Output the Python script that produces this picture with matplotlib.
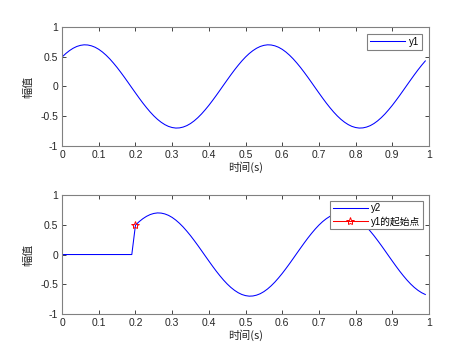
import matplotlib.pyplot as plt

plt.rcParams['font.family'] = ['Liberation Sans', 'Noto Sans CJK SC']

t = [k / 100 for k in range(100)]

y1 = [0.495, 0.553, 0.602, 0.642, 0.672, 0.691, 0.700, 0.697, 0.683, 0.659,
      0.624, 0.579, 0.525, 0.463, 0.393, 0.318, 0.237, 0.153, 0.066, -0.022,
      -0.109, -0.195, -0.278, -0.356, -0.429,
      -0.495, -0.553, -0.602, -0.642, -0.672, -0.691, -0.700, -0.697, -0.683, -0.659,
      -0.624, -0.579, -0.525, -0.463, -0.393, -0.318, -0.237, -0.153, -0.066, 0.022,
      0.109, 0.195, 0.278, 0.356, 0.429,
      0.495, 0.553, 0.602, 0.642, 0.672, 0.691, 0.700, 0.697, 0.683, 0.659,
      0.624, 0.579, 0.525, 0.463, 0.393, 0.318, 0.237, 0.153, 0.066, -0.022,
      -0.109, -0.195, -0.278, -0.356, -0.429,
      -0.495, -0.553, -0.602, -0.642, -0.672, -0.691, -0.700, -0.697, -0.683, -0.659,
      -0.624, -0.579, -0.525, -0.463, -0.393, -0.318, -0.237, -0.153, -0.066, 0.022,
      0.109, 0.195, 0.278, 0.356, 0.429]

y2 = [0, 0, 0, 0, 0, 0, 0, 0, 0, 0,
      0, 0, 0, 0, 0, 0, 0, 0, 0, 0,
      0.495, 0.553, 0.602, 0.642, 0.672, 0.691, 0.700, 0.697, 0.683, 0.659,
      0.624, 0.579, 0.525, 0.463, 0.393, 0.318, 0.237, 0.153, 0.066, -0.022,
      -0.109, -0.195, -0.278, -0.356, -0.429,
      -0.495, -0.553, -0.602, -0.642, -0.672, -0.691, -0.700, -0.697, -0.683, -0.659,
      -0.624, -0.579, -0.525, -0.463, -0.393, -0.318, -0.237, -0.153, -0.066, 0.022,
      0.109, 0.195, 0.278, 0.356, 0.429,
      0.495, 0.553, 0.602, 0.642, 0.672, 0.691, 0.700, 0.697, 0.683, 0.659,
      0.624, 0.579, 0.525, 0.463, 0.393, 0.318, 0.237, 0.153, 0.066, -0.022,
      -0.109, -0.195, -0.278, -0.356, -0.429,
      -0.495, -0.553, -0.602, -0.642, -0.672]

start_t = [0.2]
start_y = [0.5]

xticks = [0, 0.1, 0.2, 0.3, 0.4, 0.5, 0.6, 0.7, 0.8, 0.9, 1]
xticklabels = ['0', '0.1', '0.2', '0.3', '0.4', '0.5', '0.6', '0.7', '0.8', '0.9', '1']
yticks = [-1, -0.5, 0, 0.5, 1]
yticklabels = ['-1', '-0.5', '0', '0.5', '1']

axcol = '#262626'
fig = plt.figure(figsize=(4.74, 3.55), dpi=100)
ax1 = fig.add_axes([0.131, 0.589, 0.774, 0.335])
ax2 = fig.add_axes([0.131, 0.1155, 0.774, 0.335])


def style(ax):
    ax.set_xlim(0, 1)
    ax.set_ylim(-1, 1)
    ax.set_xticks(xticks)
    ax.set_xticklabels(xticklabels)
    ax.set_yticks(yticks)
    ax.set_yticklabels(yticklabels)
    ax.tick_params(direction='in', length=3, width=0.6, labelsize=7.5,
                   colors=axcol, top=True, right=True, pad=3)
    for s in ax.spines.values():
        s.set_color('#808080')
        s.set_linewidth(0.8)
    ax.set_xlabel('时间(s)', fontsize=8, color=axcol, labelpad=1,
                  family=['Noto Sans CJK SC', 'Liberation Sans'])
    ax.set_ylabel('幅值', fontsize=8, color=axcol, labelpad=5,
                  family=['Noto Sans CJK SC', 'Liberation Sans'])


def style_legend(leg):
    leg.get_frame().set_edgecolor('#808080')
    leg.get_frame().set_linewidth(0.8)
    leg.get_frame().set_alpha(1)


ax1.plot(t, y1, color='blue', lw=0.75, label='y1')
style(ax1)
leg = ax1.legend(loc='upper right', fontsize=7, handlelength=3.6,
                 fancybox=False, borderaxespad=0.7, handletextpad=0.4,
                 borderpad=0.3)
style_legend(leg)

ax2.plot(t, y2, color='blue', lw=0.75, label='y2')
ax2.plot(start_t, start_y, color='red', lw=0.75, marker='*', ms=6,
         mfc='none', mec='red', mew=0.7, label='y1的起始点')
style(ax2)
leg = ax2.legend(loc='upper right', handlelength=3.6,
                 fancybox=False, borderaxespad=0.6, handletextpad=0.4,
                 borderpad=0.25, labelspacing=0.3,
                 prop={'family': ['Liberation Sans', 'Noto Sans CJK SC'], 'size': 7})
style_legend(leg)

fig.savefig('out.png', dpi=100)
